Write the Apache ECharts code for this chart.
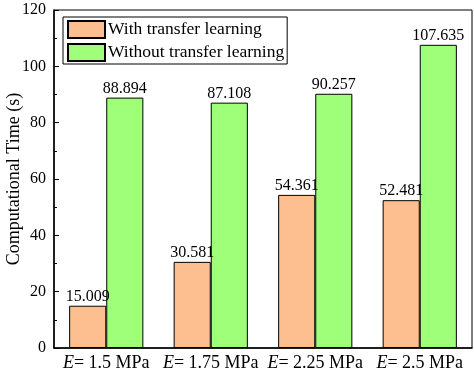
<!DOCTYPE html>
<html><head><meta charset="utf-8">
<script src="https://cdn.jsdelivr.net/npm/echarts@6/dist/echarts.min.js"></script>
<style>html,body{margin:0;padding:0;background:#fff}#c{width:474px;height:372px}</style>
</head><body><div id="c"></div>
<script>
const categories = ['1.5', '1.75', '2.25', '2.5'];
const withTL = [15.009, 30.581, 54.361, 52.481];
const withoutTL = [88.894, 87.108, 90.257, 107.635];
const seriesNames = ['With transfer learning', 'Without transfer learning'];
const yTicks = {min: 0, max: 120, interval: 20};
const F = 'Liberation Serif, Times New Roman, serif';
const chart = echarts.init(document.getElementById('c'));
const lbl = {show: true, position: 'top', distance: 1, color: '#000', fontFamily: F, fontSize: 16,
  formatter: p => p.value.toFixed(3)};
chart.setOption({
  animation: false,
  grid: {left: 54, right: 2, top: 10, bottom: 24, show: true, borderColor: '#000', borderWidth: 1,
    containLabel: false, outerBoundsMode: 'none'},
  legend: {
    orient: 'vertical', left: 63, top: 17, itemWidth: 37, itemHeight: 17, itemGap: 4, icon: 'rect',
    padding: [3, 3, 2, 4], borderColor: '#000', borderWidth: 1, backgroundColor: '#fff',
    textStyle: {fontFamily: F, fontSize: 17.5, color: '#000', padding: [0, 0, 0, -2]},
    data: seriesNames
  },
  xAxis: {
    type: 'category', data: categories,
    axisLine: {lineStyle: {color: '#000', width: 1.5}},
    axisTick: {inside: true, length: 5, lineStyle: {color: '#000'}},
    axisLabel: {color: '#000', fontFamily: F, fontSize: 18, margin: 6, interval: 0,
      formatter: v => '{i|E}= ' + v + ' MPa',
      rich: {i: {fontStyle: 'italic', fontFamily: F, fontSize: 18, color: '#000'}}}
  },
  yAxis: {
    type: 'value', min: yTicks.min, max: yTicks.max, interval: yTicks.interval,
    name: 'Computational Time (s)', nameLocation: 'middle', nameGap: 31, nameMoveOverlap: false,
    nameTextStyle: {fontFamily: F, fontSize: 18, color: '#000'},
    axisLine: {show: true, lineStyle: {color: '#000', width: 1.5}},
    axisTick: {show: true, inside: true, length: 5, lineStyle: {color: '#000'}},
    minorTick: {show: true, splitNumber: 2, length: 3, lineStyle: {color: '#000'}},
    splitLine: {show: false},
    axisLabel: {color: '#000', fontFamily: F, fontSize: 16, margin: 8}
  },
  series: [
    {name: seriesNames[0], type: 'bar', data: withTL, barGap: '0%', barCategoryGap: '29%',
      itemStyle: {color: '#FDBF8F', borderColor: '#000', borderWidth: 1}, label: lbl},
    {name: seriesNames[1], type: 'bar', data: withoutTL, barGap: '0%', barCategoryGap: '29%',
      itemStyle: {color: '#A0FF78', borderColor: '#000', borderWidth: 1}, label: lbl}
  ]
});
</script></body></html>
